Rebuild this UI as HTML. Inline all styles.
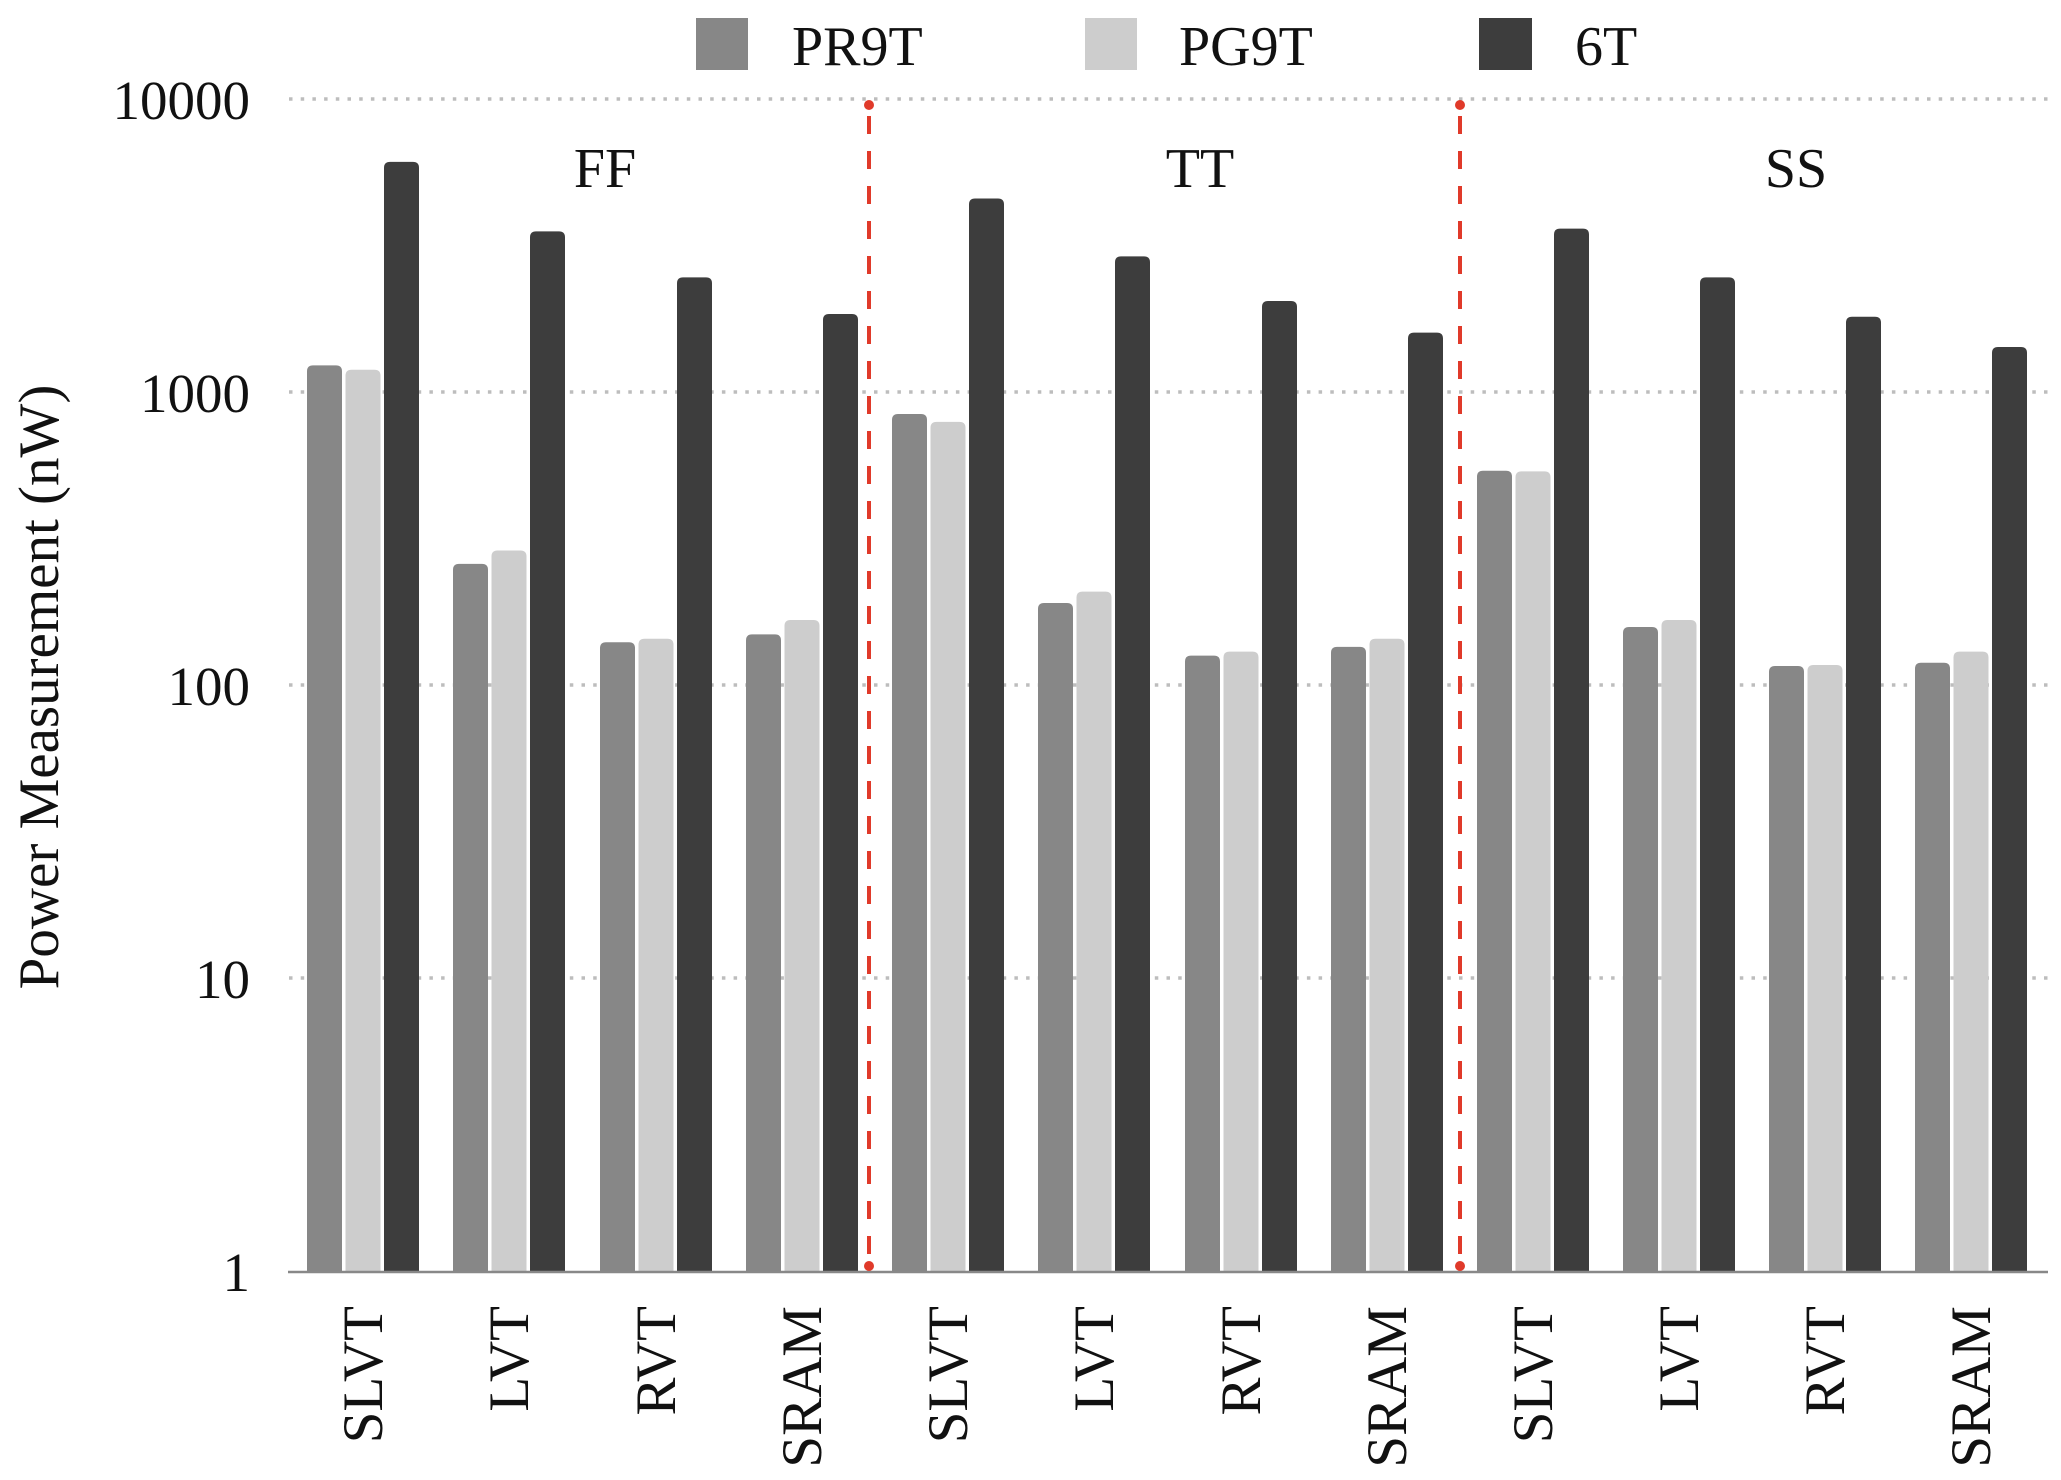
<!DOCTYPE html>
<html><head><meta charset="utf-8"><style>
html,body{margin:0;padding:0;background:#fff;}
svg{display:block;}
text{font-family:"Liberation Serif","Times New Roman",Times,serif;fill:#111;}
</style></head><body>
<svg width="2061" height="1480" viewBox="0 0 2061 1480" xmlns="http://www.w3.org/2000/svg">
<g stroke="#bdbdbd" stroke-width="3.5" stroke-dasharray="3.5 8.2">
<line x1="289" y1="99" x2="2048" y2="99"/>
<line x1="289" y1="392" x2="2048" y2="392"/>
<line x1="289" y1="685" x2="2048" y2="685"/>
<line x1="289" y1="978" x2="2048" y2="978"/>
</g>
<g font-size="55" text-anchor="end">
<text x="250" y="119">10000</text>
<text x="250" y="412">1000</text>
<text x="250" y="705">100</text>
<text x="250" y="998">10</text>
<text x="250" y="1291">1</text>
</g>
<text font-size="57" text-anchor="middle" transform="translate(58,687) rotate(-90)">Power Measurement (nW)</text>
<g id="bars"></g>
<line x1="288" y1="1272" x2="2048" y2="1272" stroke="#888" stroke-width="2.5"/>
<g stroke="#e03a2a" stroke-width="4" stroke-dasharray="18 17">
<line x1="869" y1="116" x2="869" y2="1262"/>
<line x1="1460" y1="116" x2="1460" y2="1262"/>
</g>
<g fill="#e03a2a">
<circle cx="869" cy="105" r="5"/><circle cx="869" cy="1266" r="5"/>
<circle cx="1460" cy="105" r="5"/><circle cx="1460" cy="1266" r="5"/>
</g>
<g font-size="56" text-anchor="middle">
<text x="605" y="187">FF</text>
<text x="1200" y="187">TT</text>
<text x="1796" y="187">SS</text>
</g>
<rect x="696" y="18" width="52" height="52" fill="#878787"/>
<text x="792" y="65" font-size="56">PR9T</text>
<rect x="1085" y="18" width="52" height="52" fill="#cdcdcd"/>
<text x="1179" y="65" font-size="56">PG9T</text>
<rect x="1479" y="18" width="53" height="52" fill="#3d3d3d"/>
<text x="1575" y="65" font-size="56">6T</text>
<g id="xl" font-size="57" text-anchor="end"></g>
</svg>
<script>
var starts=[307,453,600,746,892,1038,1185,1331,1477,1623,1769,1915];
var vals=[[1242,1200,6150],[261,290,3560],[141,145,2480],[150,168,1860],
[848,797,4610],[192,210,2925],[127,131,2060],[136,145,1607],
[543,540,3640],[159,168,2480],[117,118,1820],[120,131,1435]];
var cols=["#878787","#cdcdcd","#3d3d3d"];
var names=["SLVT","LVT","RVT","SRAM"];
var ns="http://www.w3.org/2000/svg";
var g=document.getElementById("bars"),xl=document.getElementById("xl");
function y(v){return 1272-293*Math.log10(v);}
for(var i=0;i<12;i++){
 for(var j=0;j<3;j++){
  var x=starts[i]+j*38.5,t=y(vals[i][j]),r=6,w=35;
  var p=document.createElementNS(ns,"path");
  p.setAttribute("d","M"+x+" 1272V"+(t+r)+"Q"+x+" "+t+" "+(x+r)+" "+t+"H"+(x+w-r)+"Q"+(x+w)+" "+t+" "+(x+w)+" "+(t+r)+"V1272Z");
  p.setAttribute("fill",cols[j]);g.appendChild(p);
 }
 var c=starts[i]+55;
 var tx=document.createElementNS(ns,"text");
 tx.setAttribute("transform","translate("+(c+20)+",1306) rotate(-90)");
 tx.textContent=names[i%4];xl.appendChild(tx);
}
</script>
</body></html>
